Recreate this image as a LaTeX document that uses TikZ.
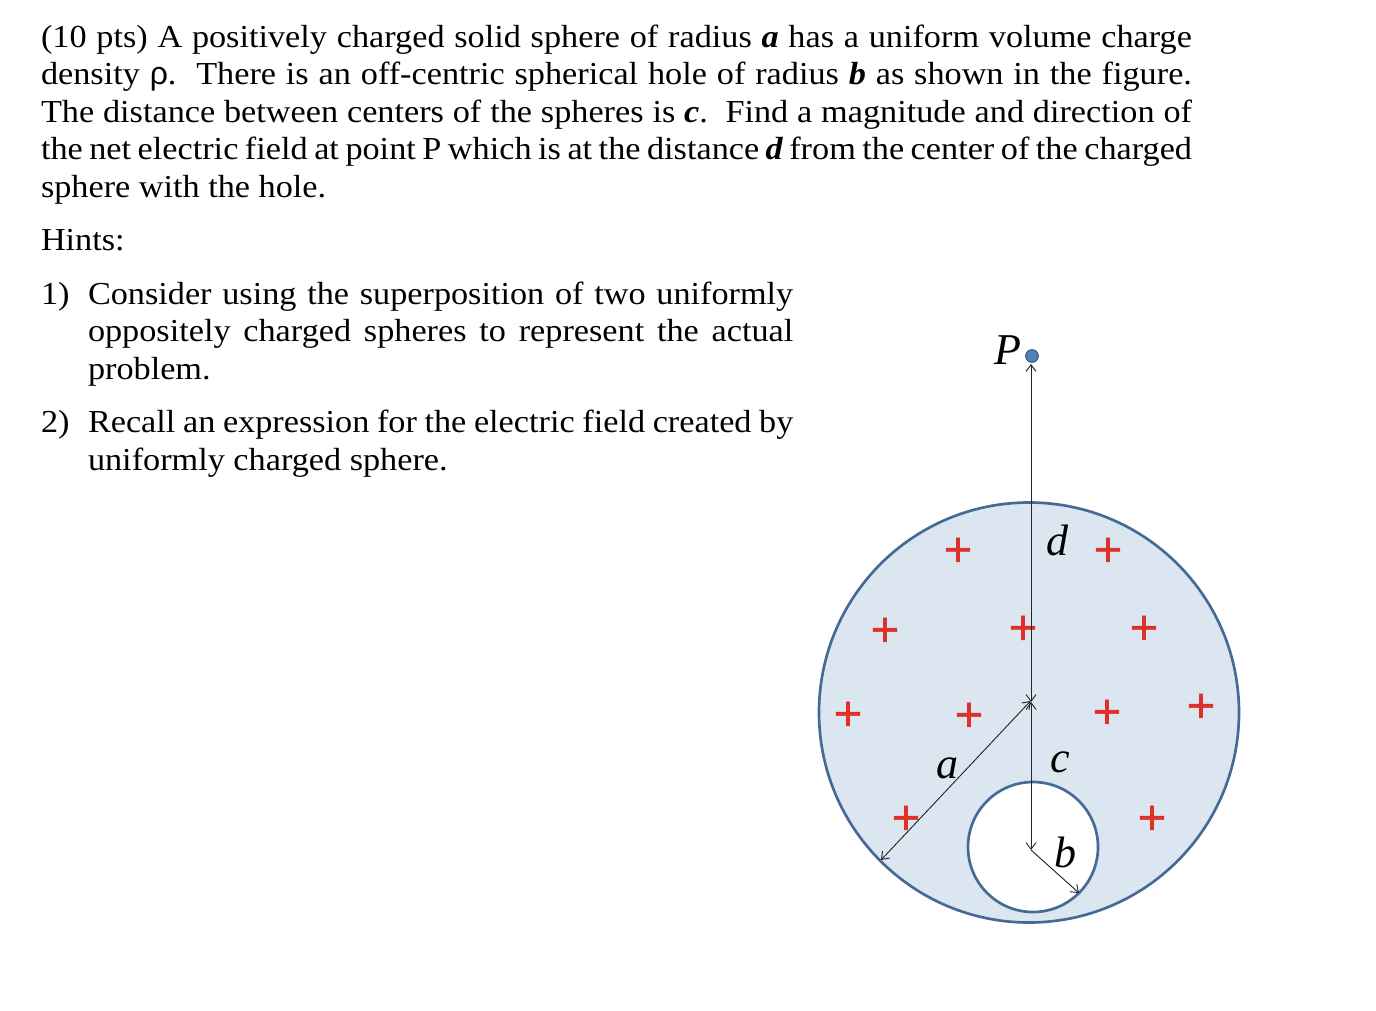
\documentclass[tikz,border=0pt]{standalone}
\usepackage{fontspec}
\usetikzlibrary{arrows.meta}
\setmainfont[FakeStretch=1.07]{Liberation Serif}
\newfontfamily\plusfont[FakeBold=0.6]{Liberation Sans}
\newfontfamily\rhofont{Liberation Sans}
\newfontfamily\labfont{Liberation Serif}
\definecolor{ballfill}{HTML}{DCE6F1}
\definecolor{ballline}{HTML}{466A96}
\definecolor{dotfill}{HTML}{4F81BD}
\definecolor{plusred}{HTML}{E0302A}
\newcommand{\jl}[1]{\hbox to 863.25pt{\spaceskip=0.24em plus 1em minus 0.1em\relax #1}}
\newcommand{\jh}[1]{\hbox to 529pt{\spaceskip=0.24em plus 1em minus 0.1em\relax #1}}
\newcommand{\bv}[1]{{\bfseries\itshape #1}}
\tikzset{
  x=0.75pt,y=-0.75pt,
  txt/.style={anchor=base west,inner sep=0pt,outer sep=0pt,font=\fontsize{24pt}{28pt}\selectfont},
  ball/.style={circle,draw=ballline,line width=2pt,inner sep=0pt,outer sep=0pt},
  pl/.style={text=plusred,inner sep=0pt,outer sep=0pt,font=\plusfont\fontsize{37pt}{37pt}\selectfont},
  lab/.style={inner sep=0pt,outer sep=0pt,font=\labfont\itshape\fontsize{33pt}{33pt}\selectfont},
  dim/.style={draw=black!85,line width=0.7pt,{Straight Barb[length=5pt,width=7.5pt]}-{Straight Barb[length=5pt,width=7.5pt]}},
  dimone/.style={draw=black!85,line width=0.7pt,-{Straight Barb[length=5pt,width=7.5pt]}},
}
\begin{document}
\begin{tikzpicture}
\useasboundingbox (0,0) rectangle (1376,1010);
\fill[white] (0,0) rectangle (1376,1010);
\node[txt] (l1) at (41,47) {\jl{(10 pts) A positively charged solid sphere of radius \bv{a} has a uniform volume charge}};
\node[txt] (l2) at (41,84) {\jl{density {\rhofont ρ}.\ \ There is an off-centric spherical hole of radius \bv{b} as shown in the figure.}};
\node[txt] (l3) at (41,122) {\jl{The distance between centers of the spheres is \bv{c}.\ \ Find a magnitude and direction of}};
\node[txt] (l4) at (41,159) {\jl{the net electric field at point P which is at the distance \bv{d} from the center of the charged}};
\node[txt] (l5) at (41,197) {sphere with the hole.};
\node[txt] (h0) at (41,250) {Hints:};
\node[txt] (n1) at (41,304) {1)};
\node[txt] (h1) at (88,304) {\jh{Consider using the superposition of two uniformly}};
\node[txt] (h2) at (88,341) {\jh{oppositely charged spheres to represent the actual}};
\node[txt] (h3) at (88,379) {problem.};
\node[txt] (n2) at (41,432) {2)};
\node[txt] (h4) at (88,432) {\jh{Recall an expression for the electric field created by}};
\node[txt] (h5) at (88,470) {uniformly charged sphere.};

\node[ball,fill=ballfill,minimum size=315pt] (big) at (1029,712.5) {};
\node[ball,fill=white,minimum size=97.5pt] (hole) at (1033,847) {};
\foreach \n/\px/\py in {p1/958/552,p2/1108/552,p3/885/632,p4/1023/630,p5/1144/630,p6/848/716,p7/969/717,p8/1107/714,p9/1201/708,p10/906/820,p11/1152/820}{
  \node[pl] (\n) at (\px,\py) {+};
}
\node[circle,draw=ballline!85!black,fill=dotfill,line width=0.8pt,minimum size=9.5pt,inner sep=0pt,outer sep=0pt] (P) at (1032,356) {};
\coordinate (Ptip) at (1031,364);
\coordinate (O) at (1031,702);
\coordinate (Oa) at (1030.5,701);
\coordinate (H) at (1031,850);
\coordinate (Ae) at (881,860);
\coordinate (Be) at (1079,893);
\draw[dim] (O) -- (Ptip);
\draw[dim] (O) -- (H);
\draw[dim] (Oa) -- (Ae);
\draw[dimone] (H) -- (Be);
\node[lab] (LP) at (1008,350) {P};
\node[lab] (Ld) at (1057,540) {d};
\node[lab] (La) at (947,768) {a};
\node[lab] (Lc) at (1060,762) {c};
\node[lab] (Lb) at (1065,852) {b};
\end{tikzpicture}
\end{document}
